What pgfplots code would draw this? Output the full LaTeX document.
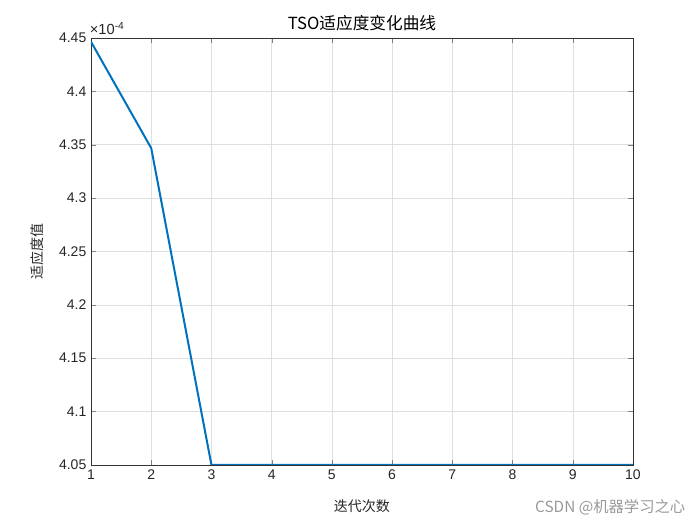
\documentclass[border=0pt]{standalone}
\usepackage{pgfplots}
\pgfplotsset{compat=1.18}
\usepackage{fontspec}
\setmainfont{Liberation Sans}
\newfontfamily\cjk{Noto Sans CJK SC}
\definecolor{mblue}{RGB}{0,114,189}
\begin{document}
\begin{tikzpicture}[x=0.75pt,y=0.75pt]
\useasboundingbox (0,0) rectangle (700,525);
\begin{axis}[
  at={(91*0.75pt,60*0.75pt)}, anchor=south west,
  scale only axis, width=406.5pt, height=320.25pt,
  xmin=1, xmax=10, ymin=4.05e-4, ymax=4.45e-4,
  xtick={1,...,10},
  ytick={4.05e-4,4.10e-4,4.15e-4,4.20e-4,4.25e-4,4.30e-4,4.35e-4,4.40e-4,4.45e-4},
  scaled y ticks=base 10:4,
  ytick scale label code/.code={×10\textsuperscript{-4}},
  every y tick scale label/.style={at={(rel axis cs:0,1)},anchor=south west,inner sep=0pt,yshift=2pt,xshift=-1pt,font=\fontsize{11}{12}\selectfont,color=black!85},
  /pgf/number format/.cd, fixed, precision=2, assume math mode=true, /pgfplots/.cd,
  yticklabel style={/pgf/number format/fixed,/pgf/number format/precision=2},
  tick label style={font=\fontsize{10.5}{12}\selectfont, color=black!85},
  grid=major, major grid style={gray!25, line width=0.4pt},
  tick align=inside, major tick length=4pt,
  axis line style={black!80, line width=0.5pt},
  title={\cjk TSO适应度变化曲线}, title style={font=\cjk\fontsize{12.5}{14}\selectfont, yshift=-4.5pt},
  xlabel={\cjk 迭代次数}, ylabel={\cjk 适应度值},
  label style={font=\fontsize{10.5}{12}\selectfont, color=black!85},
  xlabel style={yshift=-8pt}, ylabel style={yshift=4.5pt},
]
\addplot[mblue, line width=1.5pt] coordinates {
  (1,4.4465e-4) (2,4.3468e-4) (3,4.05e-4) (4,4.05e-4) (5,4.05e-4)
  (6,4.05e-4) (7,4.05e-4) (8,4.05e-4) (9,4.05e-4) (10,4.05e-4)
};
\end{axis}
\node[anchor=east, text=black!40, font=\cjk\fontsize{11.5}{13}\selectfont] at (690,18) {CSDN @机器学习之心};
\end{tikzpicture}
\end{document}
